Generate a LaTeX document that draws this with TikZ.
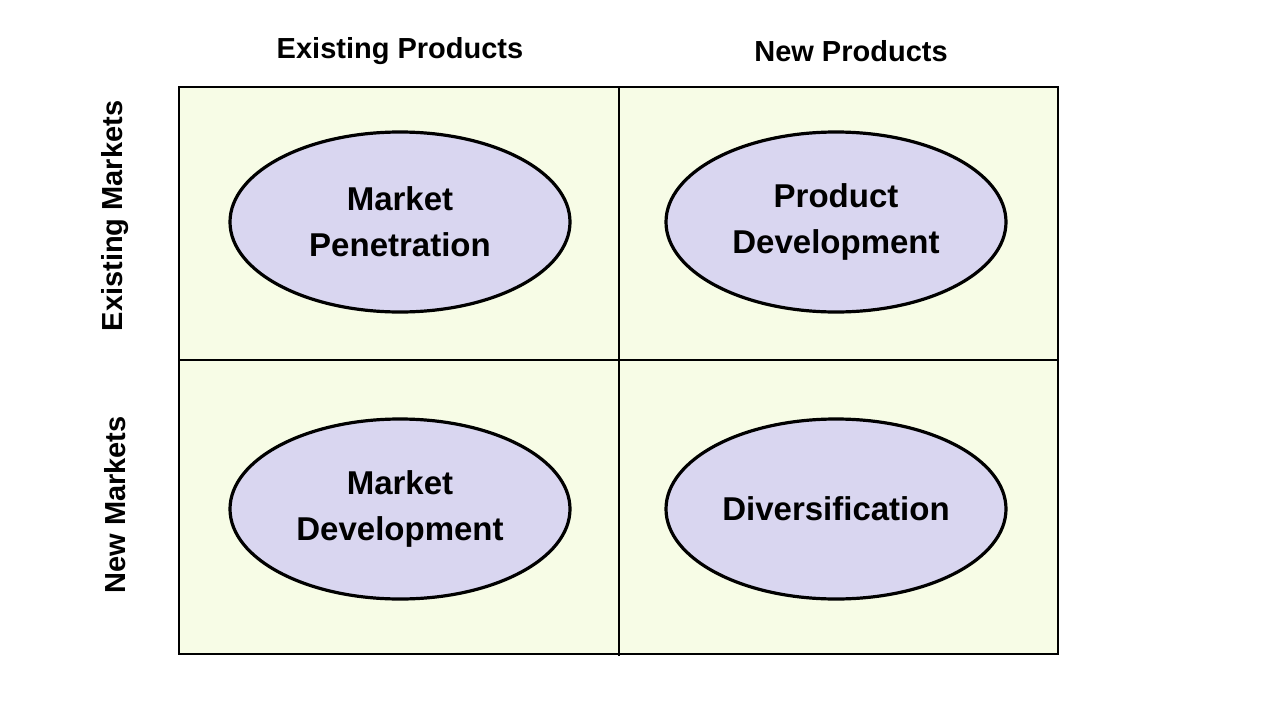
\documentclass[tikz,border=0pt]{standalone}
\usepackage{fontspec}
\setmainfont{Liberation Sans}
\usetikzlibrary{shapes.geometric}
\definecolor{cellbg}{HTML}{F7FCE6}
\definecolor{ovalbg}{HTML}{D9D6F0}
\begin{document}
\begin{tikzpicture}[x=1pt,y=-1pt,
  oval/.style={ellipse,draw=black,line width=3.2pt,fill=ovalbg,minimum width=340pt,minimum height=180pt,align=center,font=\fontsize{33}{46}\selectfont\bfseries},
  head/.style={font=\fontsize{29}{34}\selectfont\bfseries}]
\useasboundingbox (0,0) rectangle (1280,720);
\fill[cellbg] (179,87) rectangle (1058,654);
\draw[line width=1.6pt] (179,87) rectangle (1058,654);
\draw[line width=1.6pt] (619,87) -- (619,656);
\draw[line width=1.6pt] (179,360) -- (1058,360);
\node[oval] (mp) at (400,222) {Market\\Penetration};
\node[oval] (pd) at (836,222) {Product\\Development};
\node[oval] (md) at (400,509) {Market\\Development};
\node[oval] (dv) at (836,509) {Diversification};
\node[head] (ep) at (400,51) {Existing Products};
\node[head] (np) at (851,51) {New Products};
\node[head,rotate=90] (em) at (115,216) {Existing Markets};
\node[head,rotate=90] (nm) at (115,505) {New Markets};
\end{tikzpicture}
\end{document}
